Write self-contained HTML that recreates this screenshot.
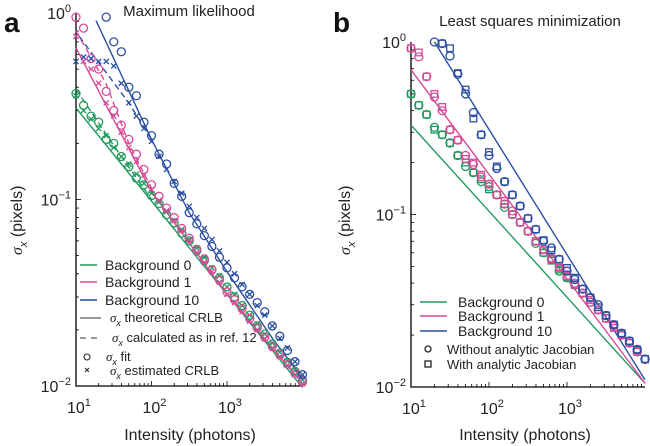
<!DOCTYPE html>
<html><head><meta charset="utf-8"><style>
body{margin:0;background:#fff;}
svg{display:block;font-family:"Liberation Sans",sans-serif;}
</style></head><body>
<svg id="fig" width="650" height="446" viewBox="0 0 650 446" xmlns="http://www.w3.org/2000/svg"></svg>
<script>
// x grid: intensity index k -> 10^(1+0.1k)
const kIdx = [0,1,2,3,4,5,6,7,8,9,10,11,12,13,14,15,16,17,18,19,20,21,22,23,24,25,26,27,28,29,30];
// Panel a (maximum likelihood)
const aTheoX = {g:[10,100,1000,10000], p:[10,100,1000,10000], b:[18.4,100,316,1000,4000,10000]};
const aTheoG = [0.31,0.098,0.031,0.0098];
const aTheoP = [0.65,0.11,0.031,0.0103];
const aTheoB = [0.91,0.21,0.085,0.041,0.018,0.011];
const aDashX = {g:[10,33,100], p:[10,25,50,100], b:[11,50,100]};
const aDashG = [0.39,0.19,0.1];
const aDashP = [0.8,0.42,0.2,0.115];
const aDashB = [0.75,0.33,0.21];
const aFitG = [0.37,0.32,0.28,0.26,0.21,0.20,0.17,0.15,0.13,0.12,0.105,0.095,0.083,0.075,0.066,0.06,0.053,0.047,0.042,0.038,0.034,0.030,0.027,0.024,0.021,0.019,0.0168,0.0150,0.0134,0.0120,0.0107];
const aEstG = [0.36,0.30,0.27,0.24,0.22,0.19,0.17,0.155,0.137,0.122,0.108,0.097,0.086,0.077,0.069,0.061,0.055,0.049,0.043,0.039,0.034,0.031,0.027,0.024,0.0215,0.019,0.017,0.0152,0.0136,0.0121,0.0108];
const aFitP = [0.95,0.83,0.57,0.50,0.38,0.30,0.25,0.21,0.175,0.145,0.12,0.104,0.09,0.08,0.07,0.062,0.054,0.048,0.042,0.037,0.032,0.029,0.026,0.023,0.0205,0.0183,0.0163,0.0147,0.0131,0.0117,0.0105];
const aEstP = [0.75,0.55,0.50,0.42,0.33,0.28,0.23,0.19,0.16,0.135,0.113,0.099,0.087,0.077,0.068,0.06,0.052,0.046,0.041,0.036,0.031,0.028,0.025,0.0223,0.020,0.0179,0.016,0.0144,0.0129,0.0115,0.0103];
const aFitB = [null,null,null,null,0.95,0.70,0.62,0.40,0.36,0.26,0.22,0.175,0.155,0.122,0.104,0.085,0.074,0.064,0.056,0.049,0.043,0.038,0.034,0.031,0.028,0.025,0.021,0.0185,0.0155,0.0135,0.0115];
const aEstB = [0.55,0.58,0.57,0.55,0.55,0.52,0.42,0.33,0.28,0.24,0.205,0.17,0.145,0.125,0.108,0.092,0.08,0.07,0.061,0.053,0.046,0.04,0.035,0.031,0.027,0.024,0.021,0.018,0.016,0.0135,0.0115];
// Panel b (least squares)
const bTheoX = {g:[10,10000], p:[10,10000], b:[20,10000]};
const bTheoG = [0.33,0.0105];
const bTheoP = [0.69,0.0105];
const bTheoB = [1.0,0.011];
const bCirG = [0.5,0.43,0.38,0.32,0.29,0.26,0.22,0.19,0.175,0.155,0.145,0.13,0.11,0.1,0.09,0.08,0.068,0.06,0.055,0.047,0.043,0.039,0.035,0.031,0.028,0.025,0.0225,0.020,0.018,0.016,0.0145];
const bSqG  = [0.5,0.43,0.38,0.31,0.29,0.26,0.22,0.2,0.175,0.16,0.14,0.13,0.115,0.1,0.09,0.08,0.07,0.06,0.054,0.048,0.043,0.039,0.035,0.032,0.028,0.026,0.023,0.020,0.018,0.0163,0.0145];
const bCirP = [0.92,0.82,0.63,0.48,0.40,0.31,0.27,0.22,0.195,0.165,0.15,0.13,0.115,0.105,0.09,0.08,0.07,0.063,0.056,0.05,0.044,0.04,0.035,0.031,0.028,0.025,0.0225,0.0205,0.018,0.016,0.0145];
const bSqP  = [0.92,0.87,0.63,0.5,0.42,0.31,0.27,0.21,0.2,0.17,0.15,0.13,0.12,0.1,0.09,0.08,0.07,0.062,0.055,0.049,0.044,0.039,0.035,0.032,0.028,0.025,0.022,0.020,0.018,0.016,0.0145];
const bCirB = [null,null,null,1.0,0.98,0.83,0.65,0.5,0.39,0.29,0.22,0.185,0.155,0.13,0.112,0.095,0.082,0.07,0.064,0.055,0.047,0.042,0.037,0.033,0.03,0.026,0.023,0.0205,0.0185,0.0165,0.0145];
const bSqB  = [null,null,null,null,0.98,0.92,0.66,0.53,0.36,0.29,0.23,0.19,0.155,0.13,0.112,0.095,0.082,0.071,0.062,0.055,0.049,0.043,0.037,0.033,0.029,0.026,0.023,0.0205,0.0185,0.0165,0.0145];

const G="#1f9a5c",P="#d64a98",B="#2a4ea3";
const NS="http://www.w3.org/2000/svg";
const svg=document.getElementById('fig');
function mk(tag,attrs,parent){const e=document.createElementNS(NS,tag);for(const k in attrs)e.setAttribute(k,attrs[k]);(parent||svg).appendChild(e);return e;}
function kx(k){return Math.pow(10,1+0.1*k);}

function panel(o){
  const g=mk('g',{});
  
  
  const X=v=>o.x0+(Math.log10(v)-1)*o.dx;
  const Y=v=>o.y0-(Math.log10(v)+2)*o.dy;
  const ax=mk('path',{d:`M${o.x0},${Y(1)}V${o.y0}H${X(10000)}`,stroke:'#000','stroke-width':1.3,fill:'none'},g);
  
  
  for(let d=1;d<4;d++)for(let m=1;m<10;m++){const v=m*Math.pow(10,d);const x=X(v);mk('line',{x1:x,x2:x,y1:o.y0,y2:o.y0-(m==1?5:3),stroke:'#000','stroke-width':0.8},g);}
  for(let d=-2;d<0;d++)for(let m=1;m<10;m++){const v=m*Math.pow(10,d);const y=Y(v);mk('line',{x1:o.x0,x2:o.x0+(m==1?5:3),y1:y,y2:y,stroke:'#000','stroke-width':0.8},g);}
  [1,2,3].forEach(e=>{const t=mk('text',{x:X(Math.pow(10,e))-9,y:o.y0+27,'font-size':16,fill:'#222'},g);t.innerHTML='10<tspan dy="-7" font-size="11">'+e+'</tspan>';});
  [0,-1,-2].forEach(e=>{const t=mk('text',{x:o.x0-5,y:Y(Math.pow(10,e))+6,'font-size':16,fill:'#222','text-anchor':'end'},g);t.innerHTML='10<tspan dy="-7" font-size="11">'+(e<0?'\u2212'+(-e):e)+'</tspan>';});
  return {g,X,Y};
}
function line(p,xs,ys,col,dash,name){
  const d=xs.map((x,i)=>(i?'L':'M')+p.X(x).toFixed(1)+','+p.Y(ys[i]).toFixed(1)).join('');
  const e=mk('path',{d,stroke:col,'stroke-width':1.4,fill:'none'},p.g);
  if(dash)e.setAttribute('stroke-dasharray','6,4');
  
  
}
function marks(p,ys,col,type,name){
  ys.forEach((v,k)=>{if(v==null)return;const x=p.X(kx(k)),y=p.Y(v);let e;
    if(type=='o')e=mk('circle',{cx:x,cy:y,r:4,stroke:col,'stroke-width':1.3,fill:'none'},p.g);
    else if(type=='s')e=mk('rect',{x:x-3.3,y:y-3.3,width:6.6,height:6.6,stroke:col,'stroke-width':1.3,fill:'none'},p.g);
    else e=mk('path',{d:`M${x-2.6},${y-2.6}L${x+2.6},${y+2.6}M${x-2.6},${y+2.6}L${x+2.6},${y-2.6}`,stroke:col,'stroke-width':1.3},p.g);
    
    
  });
}
function txt(x,y,html,size,attrs,name){const t=mk('text',Object.assign({x,y,'font-size':size,fill:'#222'},attrs||{}));t.innerHTML=html;return t;}
const SIG='<tspan font-family="Liberation Serif" font-style="italic">σ</tspan><tspan font-size="11" dy="5" font-style="italic">x</tspan><tspan dy="-5"> (pixels)</tspan>';
const sg=t=>'<tspan font-style="italic" font-family="Liberation Serif">σ</tspan><tspan font-size="9" dy="4" font-style="italic">x</tspan><tspan dy="-4"> '+t+'</tspan>';

// Panel a
const pa=panel({name:'panel-a',x0:76,y0:386,dx:75.5,dy:186.5});
line(pa,aTheoX.g,aTheoG,G,false,'theory-line-bg0');
line(pa,aTheoX.p,aTheoP,P,false,'theory-line-bg1');
line(pa,aTheoX.b,aTheoB,B,false,'theory-line-bg10');
line(pa,aDashX.g,aDashG,G,true,'ref12-line-bg0');
line(pa,aDashX.p,aDashP,P,true,'ref12-line-bg1');
line(pa,aDashX.b,aDashB,B,true,'ref12-line-bg10');
marks(pa,aFitG,G,'o','fit-marker-bg0');marks(pa,aEstG,G,'x','crlb-marker-bg0');
marks(pa,aFitP,P,'o','fit-marker-bg1');marks(pa,aEstP,P,'x','crlb-marker-bg1');
marks(pa,aFitB,B,'o','fit-marker-bg10');marks(pa,aEstB,B,'x','crlb-marker-bg10');
txt(4,32,'a',28,{'font-weight':'bold',fill:'#111'},'panel-label-a');
txt(189,16,'Maximum likelihood',15,{'text-anchor':'middle'},'title-a');
txt(190,440,'Intensity (photons)',16,{'text-anchor':'middle'},'x-axis-title-a');
txt(0,0,SIG,16,{transform:'translate(22,255) rotate(-90)'},'y-axis-title-a');
[[G,'Background 0',265],[P,'Background 1',282],[B,'Background 10',300]].forEach(r=>{
  const l=mk('line',{x1:80,x2:97,y1:r[2],y2:r[2],stroke:r[0],'stroke-width':1.4});
  txt(105,r[2]+5,r[1],14,{},'legend-entry');});
mk('line',{x1:80,x2:101,y1:318,y2:318,stroke:'#333','stroke-width':1});
txt(110,322,sg('theoretical CRLB'),13,{},'legend-entry');
mk('line',{x1:80,x2:101,y1:338,y2:338,stroke:'#333','stroke-width':1,'stroke-dasharray':'6,5'});
txt(112,342,sg('calculated as in ref. 12'),13,{},'legend-entry');
mk('circle',{cx:87,cy:357,r:3,stroke:'#222',fill:'none','stroke-width':1});
txt(106,361,sg('fit'),13,{},'legend-entry');
mk('path',{d:'M85,368L89,372M85,372L89,368',stroke:'#222','stroke-width':1});
txt(110,375,sg('estimated CRLB'),13,{},'legend-entry');

// Panel b
const pb=panel({name:'panel-b',x0:411,y0:387,dx:78,dy:172.5});
line(pb,bTheoX.g,bTheoG,G,false,'theory-line-bg0');
line(pb,bTheoX.p,bTheoP,P,false,'theory-line-bg1');
line(pb,bTheoX.b,bTheoB,B,false,'theory-line-bg10');
marks(pb,bCirG,G,'o','no-jacobian-marker-bg0');marks(pb,bSqG,G,'s','jacobian-marker-bg0');
marks(pb,bCirP,P,'o','no-jacobian-marker-bg1');marks(pb,bSqP,P,'s','jacobian-marker-bg1');
marks(pb,bCirB,B,'o','no-jacobian-marker-bg10');marks(pb,bSqB,B,'s','jacobian-marker-bg10');
txt(333,32,'b',28,{'font-weight':'bold',fill:'#111'},'panel-label-b');
txt(530,26,'Least squares minimization',15,{'text-anchor':'middle'},'title-b');
txt(525,440,'Intensity (photons)',16,{'text-anchor':'middle'},'x-axis-title-b');
txt(0,0,SIG,16,{transform:'translate(350,255) rotate(-90)'},'y-axis-title-b');
[[G,'Background 0',302],[P,'Background 1',316],[B,'Background 10',331]].forEach(r=>{
  const l=mk('line',{x1:420,x2:447,y1:r[2],y2:r[2],stroke:r[0],'stroke-width':1.4});
  txt(458,r[2]+5,r[1],14,{},'legend-entry');});
mk('circle',{cx:428,cy:349,r:3,stroke:'#222',fill:'none','stroke-width':1.3});
txt(447,354,'Without analytic Jacobian',13,{},'legend-entry');
mk('rect',{x:425,y:361,width:6,height:6,stroke:'#222',fill:'none','stroke-width':1.3});
txt(447,369,'With analytic Jacobian',13,{},'legend-entry');
</script>
</body></html>
